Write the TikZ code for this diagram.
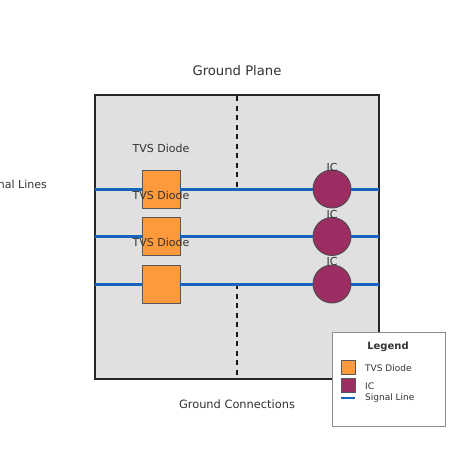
\documentclass[tikz,border=0pt]{standalone}
\usepackage{fontspec}
\setmainfont{DejaVu Sans}
\definecolor{plane}{HTML}{E0E0E0}
\definecolor{tvs}{HTML}{FF9A3C}
\definecolor{icc}{HTML}{9C2D62}
\definecolor{sig}{HTML}{1565C0}
\definecolor{txt}{HTML}{333333}
\tikzset{
  diodebox/.style={draw=black!65, fill=tvs, line width=0.9pt, minimum size=38pt, inner sep=0pt},
  icnode/.style={circle, draw=black!70, fill=icc, line width=0.9pt, minimum size=38pt, inner sep=0pt},
  sigline/.style={draw=sig, line width=3pt},
  lbl/.style={text=txt, font=\fontsize{11}{13}\selectfont, inner sep=0pt},
  smalllbl/.style={text=txt, font=\fontsize{9}{11}\selectfont, inner sep=0pt},
  gndline/.style={draw=black!90, line width=1.4pt, dash pattern=on 5pt off 4.5pt}
}
\begin{document}
\begin{tikzpicture}[x=1pt,y=-1pt]
\clip (0,0) rectangle (474,474);
\fill[white] (0,0) rectangle (474,474);
% ground plane
\node[draw=black!85, fill=plane, line width=1.4pt, minimum width=284pt, minimum height=284pt, inner sep=0pt] (plane) at (237,237) {};
\node[lbl, font=\fontsize{13.2}{15}\selectfont] (title) at (237,71) {Ground Plane};
\node[lbl, font=\fontsize{11.4}{13}\selectfont] (gconn) at (237,404) {Ground Connections};
\node[lbl, anchor=east] (siglbl) at (47,185) {Signal Lines};
% ground dashed
\coordinate (gt) at (237,96);
\coordinate (gtm) at (237,189);
\coordinate (gbm) at (237,284);
\coordinate (gb) at (237,378);
\draw[gndline] (gt) -- (gtm);
\draw[gndline] (gbm) -- (gb);
% signal lines with diodes and ICs
\foreach \i/\y in {1/189,2/236.5,3/284}{
  \coordinate (L\i) at (95,\y);
  \coordinate (R\i) at (379,\y);
  \node[diodebox] (D\i) at (161,\y) {};
  \node[icnode] (C\i) at (332,\y) {};
  \draw[sigline] (L\i) -- (D\i.west);
  \draw[sigline] (D\i.east) -- (C\i.west);
  \draw[sigline] (C\i.east) -- (R\i);
}
\foreach \i/\y in {1/148,2/195,3/242}{
  \node[lbl] (DL\i) at (161,\y) {TVS Diode};
}
\foreach \i/\y in {1/167,2/214,3/261}{
  \node[lbl] (CL\i) at (332,\y) {IC};
}
% legend
\node[draw=black!45, fill=white, line width=1pt, minimum width=113pt, minimum height=94pt, inner sep=0pt] (legend) at (388.5,379) {};
\node[smalllbl, font=\bfseries\fontsize{10}{12}\selectfont] (legtitle) at (388,347) {Legend};
\node[draw=black!65, fill=tvs, line width=0.7pt, minimum size=14pt, inner sep=0pt] (legD) at (348,367) {};
\node[draw=black!65, fill=icc, line width=0.7pt, minimum size=14pt, inner sep=0pt] (legC) at (348,385.5) {};
\coordinate (legSa) at (341,398);
\coordinate (legSb) at (355,398);
\draw[sig, line width=2.2pt] (legSa) -- (legSb);
\node[smalllbl, anchor=west] (legDt) at (365,368) {TVS Diode};
\node[smalllbl, anchor=west] (legCt) at (365,386) {IC};
\node[smalllbl, anchor=west] (legSt) at (365,398) {Signal Line};
\end{tikzpicture}
\end{document}
